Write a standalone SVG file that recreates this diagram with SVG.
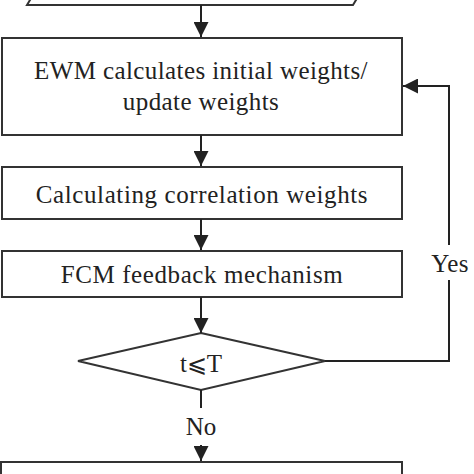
<svg xmlns="http://www.w3.org/2000/svg" width="474" height="474" viewBox="0 0 474 474">
<defs>
<marker id="ah" markerUnits="userSpaceOnUse" markerWidth="15" markerHeight="15" refX="15" refY="7.5" orient="auto">
<path d="M0,0 L15,7.5 L0,15 Z" fill="#222"/>
</marker>
</defs>
<rect width="474" height="474" fill="#fff"/>
<g id="start">
<polygon points="27,5 353,5 377,-35 51,-35" fill="#fff" stroke="#333" stroke-width="2"/>
</g>
<g id="ewm">
<rect x="2" y="38" width="400" height="97" fill="#fff" stroke="#333" stroke-width="2"/>
<text x="201" y="79" font-family="Liberation Serif" font-size="25" letter-spacing="0.4" text-anchor="middle" fill="#222">EWM calculates initial weights/</text>
<text x="201" y="110" font-family="Liberation Serif" font-size="25" letter-spacing="0.4" text-anchor="middle" fill="#222">update weights</text>
</g>
<g id="corr">
<rect x="2" y="167" width="400" height="52" fill="#fff" stroke="#333" stroke-width="2"/>
<text x="202" y="203" font-family="Liberation Serif" font-size="25" letter-spacing="0.6" text-anchor="middle" fill="#222">Calculating correlation weights</text>
</g>
<g id="fcm">
<rect x="2" y="251" width="400" height="46" fill="#fff" stroke="#333" stroke-width="2"/>
<text x="202" y="283" font-family="Liberation Serif" font-size="25" letter-spacing="0.6" text-anchor="middle" fill="#222">FCM feedback mechanism</text>
</g>
<g id="decision">
<polygon points="201,333 325,361 201,390 78,361" fill="#fff" stroke="#333" stroke-width="2"/>
<text x="201" y="372" font-family="Liberation Serif" font-size="25" text-anchor="middle" fill="#222">t<tspan font-family="DejaVu Serif" font-size="24">⩽</tspan>T</text>
</g>
<g id="end">
<rect x="1" y="462" width="401" height="20" fill="#fff" stroke="#333" stroke-width="2"/>
</g>
<g id="connectors" fill="none" stroke="#222" stroke-width="2">
<line x1="201" y1="5" x2="201" y2="37" marker-end="url(#ah)"/>
<line x1="201" y1="135" x2="201" y2="166" marker-end="url(#ah)"/>
<line x1="201" y1="219" x2="201" y2="250" marker-end="url(#ah)"/>
<line x1="201" y1="297" x2="201" y2="333" marker-end="url(#ah)"/>
<polyline points="325,361 449,361 449,280"/>
<polyline points="449,245 449,86 403,86" marker-end="url(#ah)"/>
<line x1="201" y1="390" x2="201" y2="408"/>
<line x1="201" y1="445" x2="201" y2="461" marker-end="url(#ah)"/>
</g>
<g id="labels">
<text x="450" y="272" font-family="Liberation Serif" font-size="25" letter-spacing="0.4" text-anchor="middle" fill="#222">Yes</text>
<text x="201" y="435" font-family="Liberation Serif" font-size="25" text-anchor="middle" fill="#222">No</text>
</g>
</svg>
